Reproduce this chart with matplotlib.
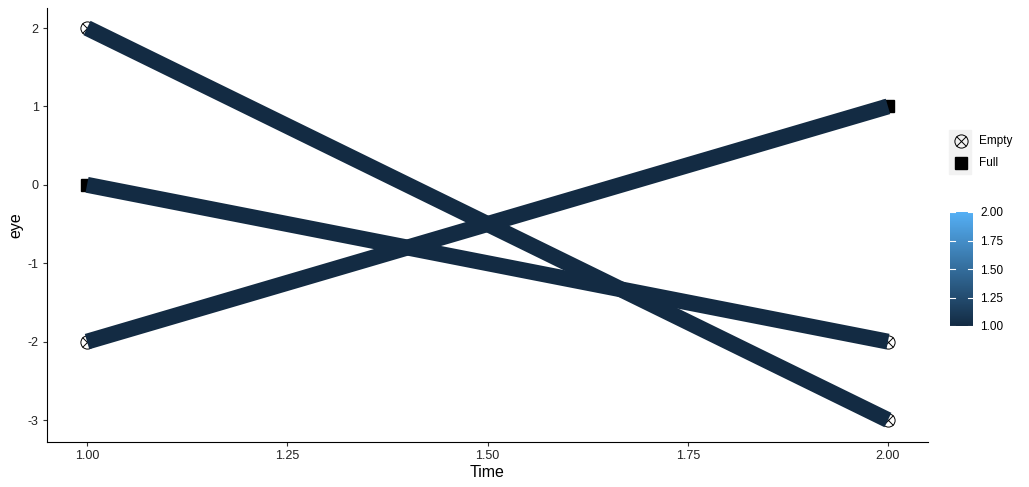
import numpy as np
import matplotlib
matplotlib.use('Agg')
import matplotlib.pyplot as plt
from matplotlib.colors import LinearSegmentedColormap

plt.rcParams['font.family'] = ['Liberation Sans', 'DejaVu Sans']
plt.rcParams['axes.unicode_minus'] = False

# segments: start (time 1) -> end (time 2)
seg_start = [2, 0, -2]
seg_end = [-3, -2, 1]
seg_col = [1, 1, 1]

# points and their fill state
pt_time = [1, 1, 1, 2, 2, 2]
pt_eye = [2, 0, -2, 1, -2, -3]
pt_state = ['Empty', 'Full', 'Empty', 'Full', 'Empty', 'Empty']

cbar_ticks = [1.00, 1.25, 1.50, 1.75, 2.00]

cmap = LinearSegmentedColormap.from_list('gg', ['#132B43', '#56B1F7'])

fig = plt.figure(figsize=(10.29, 4.87), dpi=100)
ax = fig.add_axes([47 / 1029, 1 - 442 / 487, (928 - 47) / 1029, (442 - 8.4) / 487])

for s, e, c in zip(seg_start, seg_end, seg_col):
    ax.plot([1, 2], [s, e], color=cmap((c - 1) / 1.0), lw=11.5,
            solid_capstyle='butt', zorder=3)

for t, y, st in zip(pt_time, pt_eye, pt_state):
    if st == 'Empty':
        ax.plot(t, y, 'o', ms=9.5, mfc='none', mec='black', mew=0.7, zorder=2)
        ax.plot(t, y, 'x', ms=6.5, mec='black', mew=0.7, zorder=2)
    else:
        ax.plot(t, y, 's', ms=8.5, color='black', zorder=2)

ax.set_xlim(0.95, 2.05)
ax.set_ylim(-3.28, 2.25)
ax.set_xticks([1.0, 1.25, 1.5, 1.75, 2.0])
ax.set_xticklabels(['1.00', '1.25', '1.50', '1.75', '2.00'])
ax.set_yticks([-3, -2, -1, 0, 1, 2])
ax.spines['top'].set_visible(False)
ax.spines['right'].set_visible(False)
ax.tick_params(colors='#333333', labelcolor='#222222', labelsize=9, length=3, pad=3)
ax.set_xlabel('Time', fontsize=11.5, labelpad=2)
ax.set_ylabel('eye', fontsize=11.5)
ax.yaxis.set_label_coords(-0.027, 0.5)

# shape legend
for yy, st in zip([141, 163], ['Empty', 'Full']):
    kx, ky = 961 / 1029, 1 - yy / 487
    fig.patches.append(plt.Rectangle((949 / 1029, 1 - (yy + 11) / 487), 22 / 1029, 22 / 487,
                                     transform=fig.transFigure, color='#F2F2F2', zorder=0))
    if st == 'Empty':
        fig.lines.append(plt.Line2D([kx], [ky], marker='o', ms=9.5, mfc='none', mec='black',
                                    mew=0.7, transform=fig.transFigure))
        fig.lines.append(plt.Line2D([kx], [ky], marker='x', ms=6.5, mec='black',
                                    mew=0.7, transform=fig.transFigure))
    else:
        fig.lines.append(plt.Line2D([kx], [ky], marker='s', ms=8.5, color='black',
                                    transform=fig.transFigure))
    fig.text(979 / 1029, ky, st, fontsize=8.5, va='center', color='black')

# colorbar
cax = fig.add_axes([950 / 1029, 1 - 326 / 487, 23 / 1029, (326 - 212) / 487])
grad = np.linspace(1, 2, 256).reshape(-1, 1)
cax.imshow(grad, aspect='auto', cmap=cmap, origin='lower', extent=[0, 1, 1, 2])
for v in cbar_ticks:
    cax.plot([0, 0.2], [v, v], color='white', lw=0.8)
    cax.plot([0.8, 1], [v, v], color='white', lw=0.8)
cax.set_xlim(0, 1)
cax.set_ylim(1, 2)
cax.set_xticks([])
cax.yaxis.tick_right()
cax.set_yticks(cbar_ticks)
cax.set_yticklabels(['%.2f' % v for v in cbar_ticks])
cax.tick_params(length=0, labelsize=8.5, pad=5)
for sp in cax.spines.values():
    sp.set_visible(False)

fig.savefig('out.png', dpi=100)
